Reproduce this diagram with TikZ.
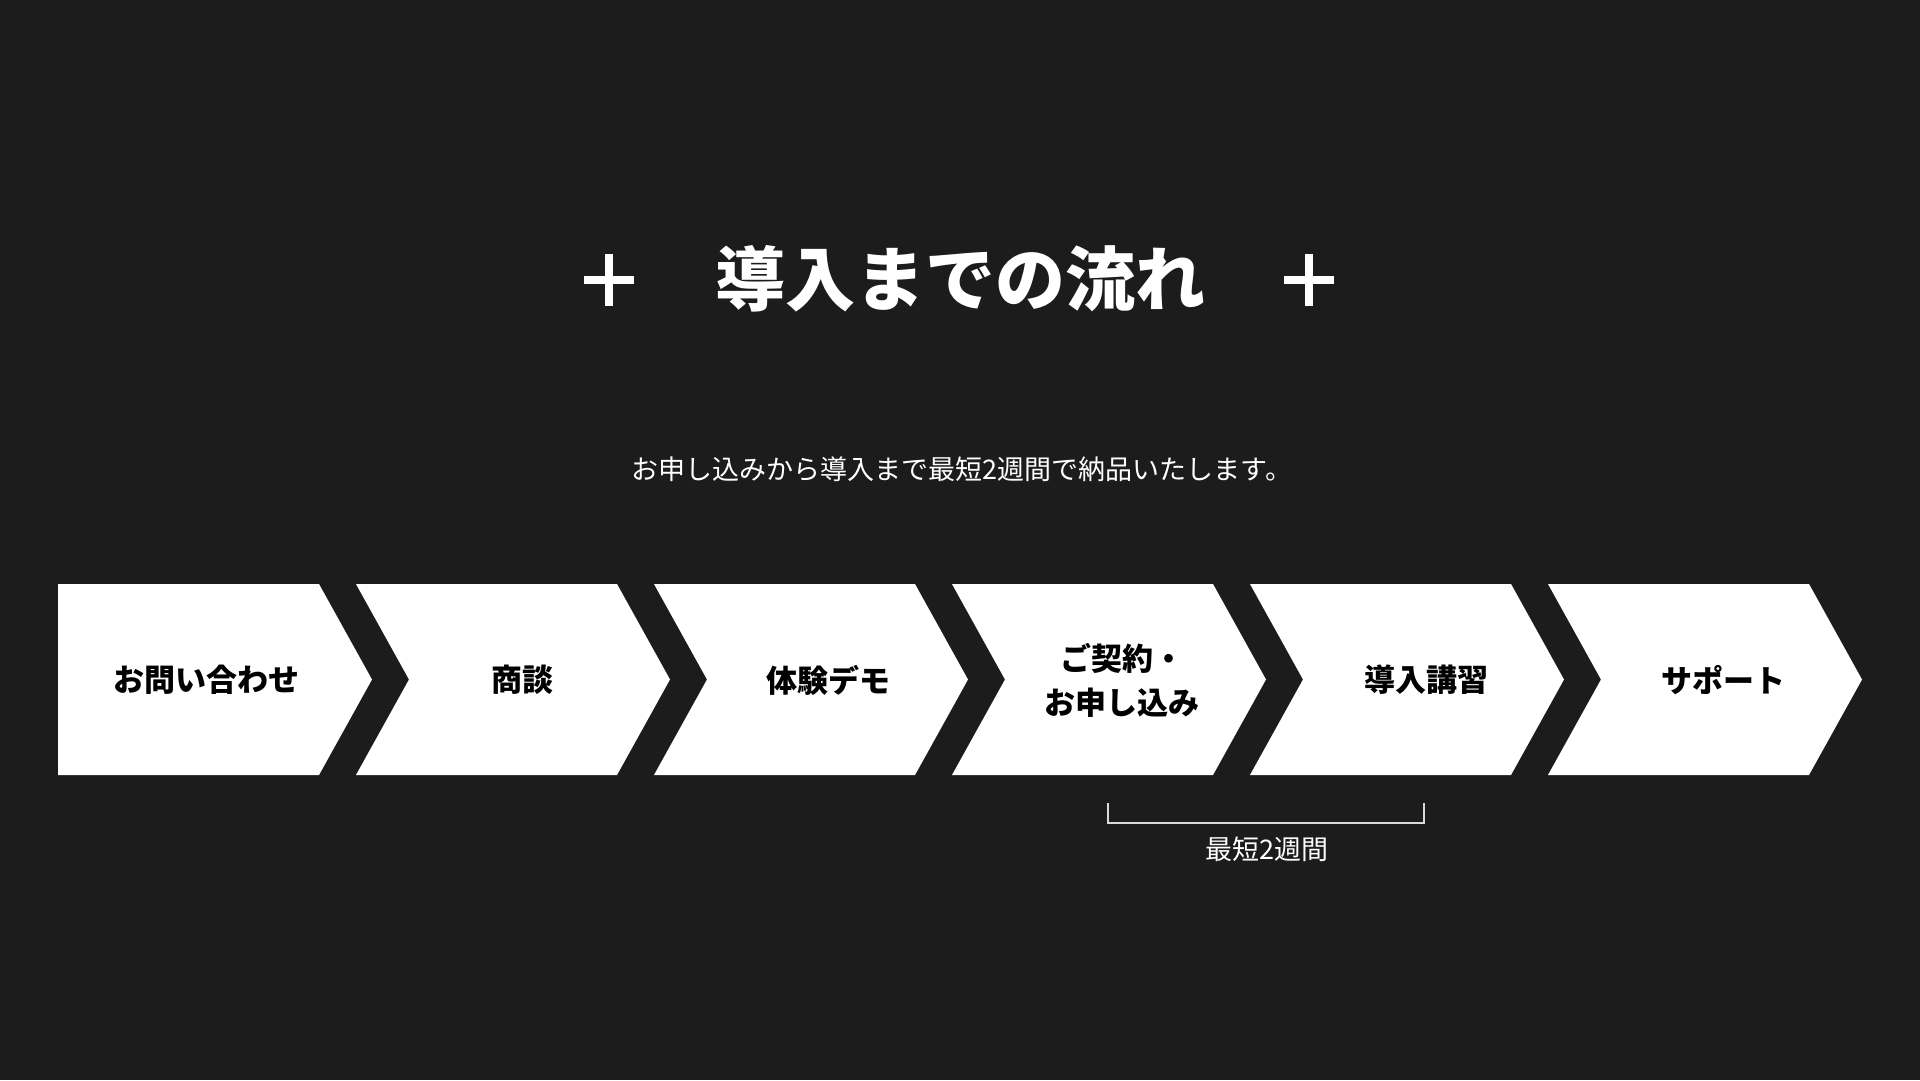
\documentclass[tikz,border=0pt]{standalone}
\usepackage{fontspec}
\setmainfont{Noto Sans CJK JP}
\definecolor{bg}{HTML}{1C1C1C}
\definecolor{fg}{HTML}{FFFFFF}
\begin{document}
\begin{tikzpicture}[x=1pt,y=-1pt,
  chev/.style={fill=white,draw=none},
  steplabel/.style={text=black,font=\fontsize{31}{44}\selectfont\bfseries,align=center,inner sep=0pt},
  titlelabel/.style={text=white,font=\fontsize{70}{84}\selectfont\bfseries,inner sep=0pt},
  sublabel/.style={text=white,font=\fontsize{27}{32}\selectfont,inner sep=0pt},
  plusline/.style={draw=white,line width=7.5pt},
  bracketline/.style={draw=white!85!black,line width=1.6pt}]
\fill[bg] (0,0) rectangle (1920,1080);
\useasboundingbox (0,0) rectangle (1920,1080);
% title
\node[titlelabel] (title) at (960,279) {導入までの流れ};
\coordinate (pa) at (609,280);
\coordinate (pb) at (1309,280);
\foreach \p in {pa,pb}{
  \draw[plusline] ([xshift=-25pt]\p) -- ([xshift=25pt]\p);
  \draw[plusline] ([yshift=-26pt]\p) -- ([yshift=26pt]\p);
}
\node[sublabel] (sub) at (962,469) {お申し込みから導入まで最短2週間で納品いたします。};
% chevrons
\fill[chev] (58,584) -- (319,584) -- (372,679.5) -- (319,775) -- (58,775) -- cycle;
\foreach \i in {1,...,5}{
  \pgfmathsetmacro{\L}{58+298*\i}
  \fill[chev] (\L,584) -- (\L+261,584) -- (\L+314,679.5) -- (\L+261,775) -- (\L,775) -- (\L+53,679.5) -- cycle;
}
\node[steplabel] (s1) at (206,680) {お問い合わせ};
\node[steplabel] (s2) at (522,680) {商談};
\node[steplabel] (s3) at (828,680) {体験デモ};
\node[steplabel] (s4) at (1122,680) {ご契約・\\お申し込み};
\node[steplabel] (s5) at (1426,680) {導入講習};
\node[steplabel] (s6) at (1723,680) {サポート};
% bracket
\coordinate (ba) at (1108,803);
\coordinate (bb) at (1108,823);
\coordinate (bc) at (1424,823);
\coordinate (bd) at (1424,803);
\draw[bracketline] (ba) -- (bb) -- (bc) -- (bd);
\node[sublabel] (wk) at (1267,849) {最短2週間};
\end{tikzpicture}
\end{document}
